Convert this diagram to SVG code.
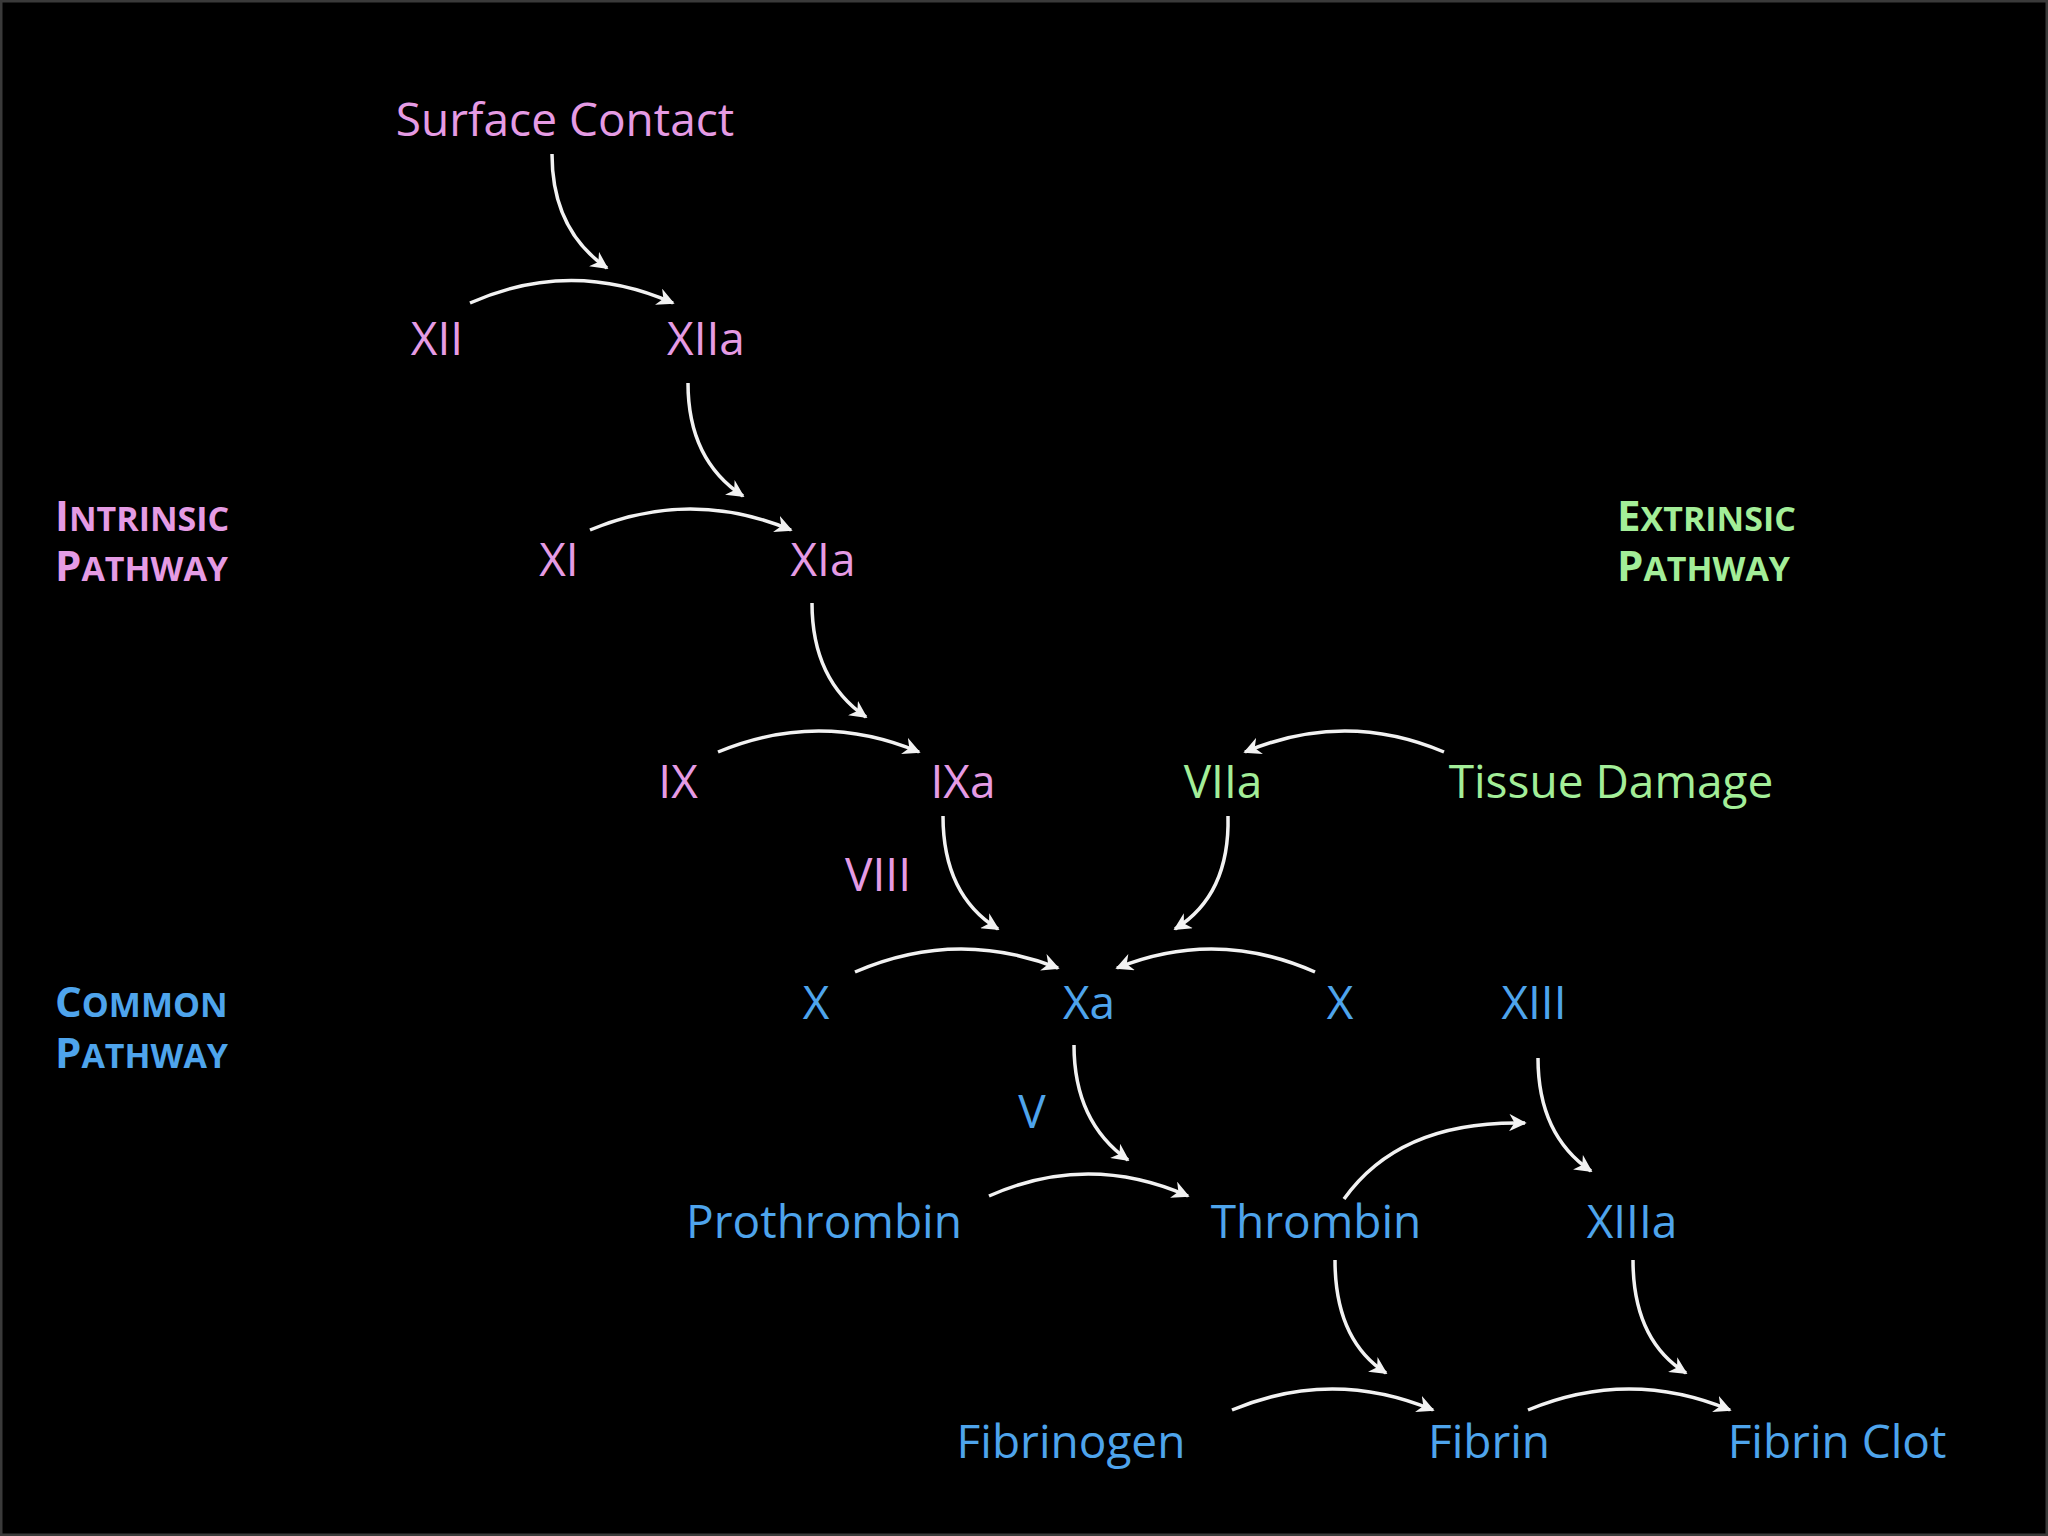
<svg xmlns="http://www.w3.org/2000/svg" width="2048" height="1536" viewBox="0 0 2048 1536">
<style>
text{font-family:"Open Sans","Liberation Sans",sans-serif;font-size:46px;font-weight:500}
.p{fill:#e59be4}.g{fill:#a3ee98}.b{fill:#4ea4ec}
.n text{text-anchor:middle}
.h{font-weight:bold;font-size:34px}
.hb{font-size:42px}
#conn path{fill:none;stroke:#f2f2f2;stroke-width:3.5;marker-end:url(#ah)}
</style>
<defs><marker id="ah" viewBox="0 0 10 10" refX="9" refY="5" markerWidth="5" markerHeight="5" orient="auto" markerUnits="strokeWidth"><path d="M0,0L10,5L0,10L3,5Z" fill="#f2f2f2"/></marker></defs>
<rect width="2048" height="1536" fill="#000"/>
<rect x="1" y="1" width="2046" height="1534" fill="none" stroke="#3a3a3a" stroke-width="3"/>
<g class="n">
<g id="surface"><text class="p" x="565" y="136">Surface Contact</text></g>
<g id="xii"><text class="p" x="437" y="355">XII</text></g>
<g id="xiia"><text class="p" x="706" y="355">XIIa</text></g>
<g id="xi"><text class="p" x="559" y="576">XI</text></g>
<g id="xia"><text class="p" x="823" y="576">XIa</text></g>
<g id="ix"><text class="p" x="678" y="798">IX</text></g>
<g id="ixa"><text class="p" x="963" y="798">IXa</text></g>
<g id="viii"><text class="p" x="878" y="891">VIII</text></g>
<g id="viia"><text class="g" x="1223" y="798">VIIa</text></g>
<g id="tissue"><text class="g" x="1611" y="798">Tissue Damage</text></g>
<g id="x1"><text class="b" x="816" y="1019">X</text></g>
<g id="xa"><text class="b" x="1089" y="1019">Xa</text></g>
<g id="x2"><text class="b" x="1340" y="1019">X</text></g>
<g id="xiii"><text class="b" x="1534" y="1019">XIII</text></g>
<g id="v"><text class="b" x="1032" y="1128">V</text></g>
<g id="prothrombin"><text class="b" x="824" y="1238">Prothrombin</text></g>
<g id="thrombin"><text class="b" x="1316" y="1238">Thrombin</text></g>
<g id="xiiia"><text class="b" x="1632" y="1238">XIIIa</text></g>
<g id="fibrinogen"><text class="b" x="1071" y="1458">Fibrinogen</text></g>
<g id="fibrin"><text class="b" x="1489" y="1458">Fibrin</text></g>
<g id="clot"><text class="b" x="1837" y="1458">Fibrin Clot</text></g>
</g>
<g id="labels">
<text class="p h" x="55" y="531"><tspan class="hb">I</tspan>NTRINSIC</text>
<text class="p h" x="55" y="581"><tspan class="hb">P</tspan>ATHWAY</text>
<text class="g h" x="1617" y="531"><tspan class="hb">E</tspan>XTRINSIC</text>
<text class="g h" x="1617" y="581"><tspan class="hb">P</tspan>ATHWAY</text>
<text class="b h" x="55" y="1017"><tspan class="hb">C</tspan>OMMON</text>
<text class="b h" x="55" y="1068"><tspan class="hb">P</tspan>ATHWAY</text>
</g>
<g id="conn">
<path d="M552,154Q552,230 607,268"/>
<path d="M470,303Q571,258 673,303"/>
<path d="M688,383Q688,460 743,496"/>
<path d="M590,530Q690,488 791,530"/>
<path d="M812,603Q812,680 866,717"/>
<path d="M718,752Q819,710 919,752"/>
<path d="M943,816Q943,895 998,929"/>
<path d="M1444,752Q1345,710 1245,752"/>
<path d="M1228,816Q1230,895 1175,929"/>
<path d="M855,972Q956,928 1058,968"/>
<path d="M1315,972Q1216,928 1117,968"/>
<path d="M1074,1045Q1074,1122 1128,1160"/>
<path d="M989,1196Q1088,1152 1188,1196"/>
<path d="M1344,1199Q1400,1120 1525,1123"/>
<path d="M1538,1058Q1538,1135 1591,1171"/>
<path d="M1335,1260Q1335,1340 1386,1373"/>
<path d="M1633,1260Q1633,1340 1686,1373"/>
<path d="M1232,1410Q1332,1368 1433,1410"/>
<path d="M1528,1410Q1629,1368 1730,1410"/>
</g>
</svg>
